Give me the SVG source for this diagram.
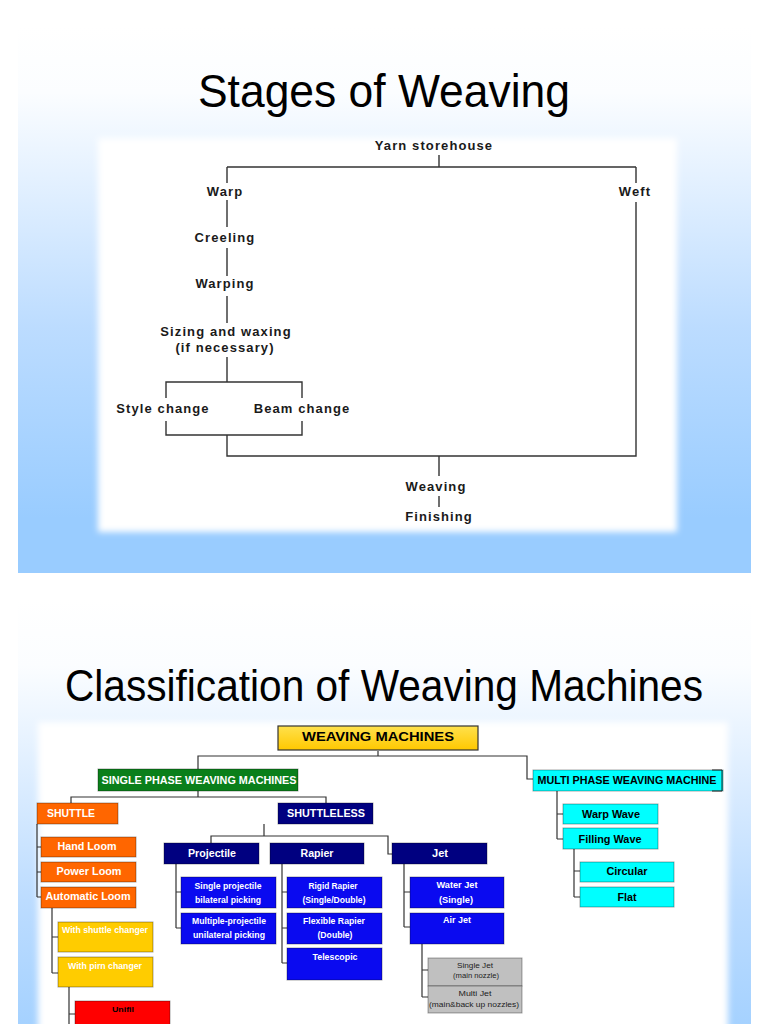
<svg xmlns="http://www.w3.org/2000/svg" width="768" height="1024" viewBox="0 0 768 1024">
<defs>
<linearGradient id="slideBg" x1="0" y1="0" x2="0" y2="1">
<stop offset="0" stop-color="#ffffff"/>
<stop offset="0.12" stop-color="#fbfdff"/>
<stop offset="0.55" stop-color="#bcdcff"/>
<stop offset="0.9" stop-color="#99ccff"/>
<stop offset="1" stop-color="#99ccff"/>
</linearGradient>
<linearGradient id="gold" x1="0" y1="0" x2="0" y2="1">
<stop offset="0" stop-color="#ffe14d"/>
<stop offset="1" stop-color="#ffc800"/>
</linearGradient>
<filter id="soft" x="-5%" y="-5%" width="110%" height="110%">
<feGaussianBlur stdDeviation="3"/>
</filter>
</defs>
<style>
.title{font-family:"Liberation Sans",Arial,sans-serif;font-size:46px;fill:#000;text-anchor:middle}
.t1{font-family:"Liberation Sans",Arial,sans-serif;font-weight:bold;font-size:13px;fill:#1a1a1a;letter-spacing:1.1px;text-anchor:middle}
.ln{fill:none;stroke:#333;stroke-width:1.4}
.ln2{fill:none;stroke:#333;stroke-width:1.2}
.bx{stroke:#000;stroke-opacity:0.35;stroke-width:1}
.w{font-family:"Liberation Sans",Arial,sans-serif;font-weight:bold;fill:#fff;text-anchor:middle}
.k{font-family:"Liberation Sans",Arial,sans-serif;font-weight:bold;fill:#000;text-anchor:middle}
.g{font-family:"Liberation Sans",Arial,sans-serif;fill:#222;text-anchor:middle}
.orange{fill:#ff6600}
.navy{fill:#000080}
.blue{fill:#0a0af0}
.cyan{fill:#00ffff}
.yel{fill:#ffcc00}
.gray{fill:#c0c0c0}
</style>
<rect width="768" height="1024" fill="#ffffff"/>
<!-- Slide 1 -->
<rect x="18" y="27" width="733" height="546" fill="url(#slideBg)"/>
<rect x="98" y="138" width="579" height="394" fill="#ffffff" filter="url(#soft)"/>
<text class="title" x="384" y="107" textLength="372" lengthAdjust="spacingAndGlyphs">Stages of Weaving</text>
<g id="connectors1">
<path class="ln" d="M439 155V167M227 167H636"/>
<path class="ln" d="M227 167V183M227 200V227M227 248V276M227 296V323M227 357V382"/>
<path class="ln" d="M166 398V382H302V398M166 421V435H302V421M227 435V456H636V202M636 167V183"/>
<path class="ln" d="M439 456V476M439 496V507"/>
</g>
<g id="s1-yarn"><text class="t1" x="434" y="150">Yarn storehouse</text></g>
<g id="s1-warp"><text class="t1" x="225" y="196">Warp</text></g>
<g id="s1-weft"><text class="t1" x="635" y="196">Weft</text></g>
<g id="s1-creeling"><text class="t1" x="225" y="242">Creeling</text></g>
<g id="s1-warping"><text class="t1" x="225" y="288">Warping</text></g>
<g id="s1-sizing"><text class="t1" x="226" y="336">Sizing and waxing</text><text class="t1" x="225" y="352">(if necessary)</text></g>
<g id="s1-style"><text class="t1" x="163" y="413">Style change</text></g>
<g id="s1-beam"><text class="t1" x="302" y="413">Beam change</text></g>
<g id="s1-weaving"><text class="t1" x="436" y="491">Weaving</text></g>
<g id="s1-finishing"><text class="t1" x="439" y="521">Finishing</text></g>
<!-- Slide 2 -->
<rect x="18" y="600" width="733" height="546" fill="url(#slideBg)"/>
<rect x="38" y="722" width="690" height="320" fill="#ffffff" filter="url(#soft)"/>
<text class="title" x="384" y="701" font-size="44" textLength="638" lengthAdjust="spacingAndGlyphs" style="font-size:44px">Classification of Weaving Machines</text>
<g id="connectors2">
<path class="ln2" d="M378 751V756M198 769V756H527V779H533"/>
<path class="ln2" d="M198 791V797M71 803V797H326V803"/>
<path class="ln2" d="M37 824V897M37 847H41M37 872H41M37 897H41"/>
<path class="ln2" d="M52 908V973M52 937H58M52 973H58"/>
<path class="ln2" d="M69 987V1024M69 1014H75"/>
<path class="ln2" d="M264 824V836M211 843V836H388V854H392"/>
<path class="ln2" d="M176 864V928M176 892H181M176 928H181"/>
<path class="ln2" d="M282 864V963M282 892H287M282 928H287M282 963H287"/>
<path class="ln2" d="M404 864V927M404 892H410M404 927H410"/>
<path class="ln2" d="M422 944V997M422 970H428M422 997H428"/>
<path class="ln2" d="M557 791V839M557 814H563M557 839H563"/>
<path class="ln2" d="M574 849V897M574 871H580M574 897H580"/>
</g>
<g id="n-weaving-machines"><rect x="278" y="726" width="200" height="24" fill="url(#gold)" stroke="#333" stroke-width="1.2"/><text class="k" x="378" y="741" font-size="13" textLength="152" lengthAdjust="spacingAndGlyphs">WEAVING MACHINES</text></g>
<g id="n-single"><rect class="bx" x="98" y="769" width="200" height="22" fill="#0a7f1a"/><text class="w" x="199" y="784" font-size="11" textLength="195" lengthAdjust="spacingAndGlyphs">SINGLE PHASE WEAVING MACHINES</text></g>
<g id="n-multi"><rect class="bx cyan" x="533" y="770" width="190" height="21"/><path d="M712 770H722V791H712" fill="none" stroke="#222" stroke-width="1"/><text class="k" x="627" y="784" font-size="11" textLength="179" lengthAdjust="spacingAndGlyphs">MULTI PHASE WEAVING MACHINE</text></g>
<g id="n-shuttle"><rect class="bx orange" x="37" y="803" width="81" height="21"/><text class="w" x="71" y="817" font-size="11" textLength="48" lengthAdjust="spacingAndGlyphs">SHUTTLE</text></g>
<g id="n-shuttleless"><rect class="bx navy" x="278" y="803" width="95" height="21"/><text class="w" x="326" y="817" font-size="11" textLength="78" lengthAdjust="spacingAndGlyphs">SHUTTLELESS</text></g>
<g id="n-hand"><rect class="bx orange" x="41" y="837" width="95" height="20"/><text class="w" x="87" y="850" font-size="11" textLength="59" lengthAdjust="spacingAndGlyphs">Hand Loom</text></g>
<g id="n-power"><rect class="bx orange" x="41" y="862" width="95" height="20"/><text class="w" x="89" y="875" font-size="11" textLength="65" lengthAdjust="spacingAndGlyphs">Power Loom</text></g>
<g id="n-auto"><rect class="bx orange" x="41" y="887" width="95" height="21"/><text class="w" x="88" y="900" font-size="11" textLength="85" lengthAdjust="spacingAndGlyphs">Automatic Loom</text></g>
<g id="n-shuttle-changer"><rect class="bx yel" x="58" y="922" width="95" height="30"/><text class="w" x="105" y="933" font-size="9" textLength="86" lengthAdjust="spacingAndGlyphs">With shuttle changer</text></g>
<g id="n-pirn-changer"><rect class="bx yel" x="58" y="957" width="95" height="30"/><text class="w" x="105" y="969" font-size="9" textLength="74" lengthAdjust="spacingAndGlyphs">With pirn changer</text></g>
<g id="n-unifil"><rect class="bx" x="75" y="1001" width="95" height="30" fill="#ff0000"/><text class="k" x="123" y="1012" font-size="8" font-weight="normal" textLength="22" lengthAdjust="spacingAndGlyphs">Unifil</text></g>
<g id="n-projectile"><rect class="bx navy" x="164" y="843" width="95" height="21"/><text class="w" x="212" y="857" font-size="11" textLength="48" lengthAdjust="spacingAndGlyphs">Projectile</text></g>
<g id="n-rapier"><rect class="bx navy" x="270" y="843" width="94" height="21"/><text class="w" x="317" y="857" font-size="11" textLength="33" lengthAdjust="spacingAndGlyphs">Rapier</text></g>
<g id="n-jet"><rect class="bx navy" x="392" y="843" width="95" height="21"/><text class="w" x="440" y="857" font-size="11" textLength="16" lengthAdjust="spacingAndGlyphs">Jet</text></g>
<g id="n-single-proj"><rect class="bx blue" x="181" y="877" width="95" height="31"/><text class="w" x="228" y="889" font-size="9.5" textLength="67" lengthAdjust="spacingAndGlyphs">Single projectile</text><text class="w" x="228" y="903" font-size="9.5" textLength="66" lengthAdjust="spacingAndGlyphs">bilateral picking</text></g>
<g id="n-multi-proj"><rect class="bx blue" x="181" y="913" width="95" height="31"/><text class="w" x="229" y="924" font-size="9.5" textLength="74" lengthAdjust="spacingAndGlyphs">Multiple-projectile</text><text class="w" x="229" y="938" font-size="9.5" textLength="72" lengthAdjust="spacingAndGlyphs">unilateral picking</text></g>
<g id="n-rigid"><rect class="bx blue" x="287" y="877" width="95" height="31"/><text class="w" x="333" y="889" font-size="9.5" textLength="49" lengthAdjust="spacingAndGlyphs">Rigid Rapier</text><text class="w" x="334" y="903" font-size="9.5" textLength="63" lengthAdjust="spacingAndGlyphs">(Single/Double)</text></g>
<g id="n-flexible"><rect class="bx blue" x="287" y="913" width="95" height="31"/><text class="w" x="334" y="924" font-size="9.5" textLength="62" lengthAdjust="spacingAndGlyphs">Flexible Rapier</text><text class="w" x="335" y="938" font-size="9.5" textLength="35" lengthAdjust="spacingAndGlyphs">(Double)</text></g>
<g id="n-telescopic"><rect class="bx blue" x="287" y="948" width="95" height="32"/><text class="w" x="335" y="960" font-size="9.5" textLength="45" lengthAdjust="spacingAndGlyphs">Telescopic</text></g>
<g id="n-water"><rect class="bx blue" x="410" y="877" width="94" height="31"/><text class="w" x="457" y="888" font-size="9.5" textLength="41" lengthAdjust="spacingAndGlyphs">Water Jet</text><text class="w" x="456" y="903" font-size="9.5" textLength="34" lengthAdjust="spacingAndGlyphs">(Single)</text></g>
<g id="n-air"><rect class="bx blue" x="410" y="913" width="94" height="31"/><text class="w" x="457" y="923" font-size="9.5" textLength="28" lengthAdjust="spacingAndGlyphs">Air Jet</text></g>
<g id="n-single-jet"><rect class="bx gray" x="428" y="958" width="94" height="28"/><text class="g" x="475" y="968" font-size="7.5" textLength="36" lengthAdjust="spacingAndGlyphs">Single Jet</text><text class="g" x="476" y="978" font-size="7.5" textLength="46" lengthAdjust="spacingAndGlyphs">(main nozzle)</text></g>
<g id="n-multi-jet"><rect class="bx gray" x="428" y="986" width="94" height="27"/><text class="g" x="475" y="996" font-size="7.5" textLength="33" lengthAdjust="spacingAndGlyphs">Multi Jet</text><text class="g" x="474" y="1007" font-size="7.5" textLength="90" lengthAdjust="spacingAndGlyphs">(main&amp;back up nozzles)</text></g>
<g id="n-warp-wave"><rect class="bx cyan" x="563" y="804" width="95" height="20"/><text class="k" x="611" y="818" font-size="11" font-weight="normal" textLength="58" lengthAdjust="spacingAndGlyphs" style="font-weight:bold">Warp Wave</text></g>
<g id="n-filling-wave"><rect class="bx cyan" x="563" y="828" width="95" height="21"/><text class="k" x="610" y="843" font-size="11" textLength="63" lengthAdjust="spacingAndGlyphs">Filling Wave</text></g>
<g id="n-circular"><rect class="bx cyan" x="580" y="862" width="94" height="20"/><text class="k" x="627" y="875" font-size="11" textLength="41" lengthAdjust="spacingAndGlyphs">Circular</text></g>
<g id="n-flat"><rect class="bx cyan" x="580" y="887" width="94" height="20"/><text class="k" x="627" y="901" font-size="11" textLength="19" lengthAdjust="spacingAndGlyphs">Flat</text></g>
</svg>
